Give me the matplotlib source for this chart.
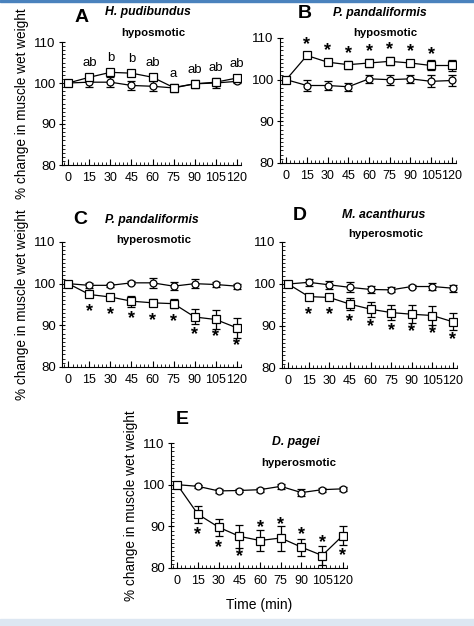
import matplotlib
matplotlib.use("Agg")
import matplotlib.pyplot as plt
from matplotlib.patches import Rectangle
from matplotlib.ticker import MultipleLocator

plt.rcParams["font.family"] = ["Liberation Sans", "DejaVu Sans"]

# ------------------------------------------------------------
# DATA
# ------------------------------------------------------------
TIME = [0, 15, 30, 45, 60, 75, 90, 105, 120]

# A  H. pudibundus, hyposmotic
A_SQ = [100, 101.4, 102.6, 102.4, 101.4, 98.9, 99.8, 100.2, 101.2]
A_SQ_ERR = [0, 0.5, 0.4, 0.4, 0.3, 0.4, 0.3, 0.5, 0.5]
A_CI = [100, 100.2, 100.2, 99.4, 99.2, 98.8, 99.8, 100.0, 100.4]
A_CI_ERR = [0, 1.2, 1.2, 1.2, 1.2, 1.0, 1.0, 1.2, 0.5]
A_LETTERS = ["", "ab", "b", "b", "ab", "a", "ab", "ab", "ab"]

# B  P. pandaliformis, hyposmotic
B_SQ = [100, 105.8, 104.2, 103.6, 104.0, 104.4, 104.0, 103.4, 103.4]
B_SQ_ERR = [0, 0.3, 0.6, 1.0, 1.0, 1.0, 0.6, 1.2, 1.3]
B_CI = [100, 98.6, 98.6, 98.3, 100.2, 100.0, 100.2, 99.6, 99.8]
B_CI_ERR = [0, 1.2, 1.0, 1.0, 1.0, 1.2, 1.0, 1.4, 1.4]
B_STARS = [0, 1, 1, 1, 1, 1, 1, 1, 0]

# C  P. pandaliformis, hyperosmotic
C_SQ = [100, 97.4, 96.8, 95.8, 95.4, 95.2, 92.0, 91.4, 89.4]
C_SQ_ERR = [0, 0.4, 0.6, 1.3, 0.8, 1.0, 1.8, 2.2, 2.4]
C_CI = [100, 99.6, 99.6, 100.2, 100.2, 99.4, 100.0, 99.8, 99.4]
C_CI_ERR = [0, 0.6, 0.4, 0.4, 1.2, 1.0, 1.0, 0.6, 0.6]
C_STARS = [0, -1, -1, -1, -1, -1, -1, -1, -1]

# D  M. acanthurus, hyperosmotic
D_SQ = [100, 97.0, 96.8, 95.2, 94.0, 93.2, 92.8, 92.5, 91.0]
D_SQ_ERR = [0, 0.3, 0.6, 1.5, 1.8, 1.8, 2.2, 2.2, 2.0]
D_CI = [100, 100.4, 99.8, 99.2, 98.7, 98.6, 99.4, 99.4, 99.0]
D_CI_ERR = [0, 0.8, 1.0, 1.2, 0.8, 0.6, 0.4, 0.8, 0.8]
D_STARS = [0, -1, -1, -1, -1, -1, -1, -1, -1]

# E  D. pagei, hyperosmotic
E_SQ = [100, 92.9, 89.8, 87.6, 86.6, 87.2, 85.0, 83.0, 87.8]
E_SQ_ERR = [0, 2.0, 2.0, 2.8, 2.6, 3.0, 2.0, 2.2, 2.2]
E_CI = [100, 99.6, 98.5, 98.6, 98.8, 99.6, 98.1, 98.8, 99.0]
E_CI_ERR = [0, 0.4, 0.5, 0.4, 0.5, 0.6, 0.8, 0.5, 0.4]
E_STARS = [0, -1, -1, -1, 1, 1, 1, 1, -1]

YLABEL = "% change in muscle wet weight"


def fx(px):
    return px / 474.0


def fy(px):
    return 1 - px / 626.0


def make_axes(fig, left, top, right, bottom):
    return fig.add_axes([fx(left), fy(bottom), fx(right - left), (bottom - top) / 626.0])


def draw_panel(ax, sq, sq_err, ci, ci_err, ylabel=True, xlabel=False):
    ax.errorbar(TIME, ci, yerr=ci_err, color="black", lw=0.9, marker="o",
                ms=5.0, mfc="white", mec="black", mew=0.9,
                capsize=2.8, elinewidth=0.9, capthick=0.9, zorder=3)
    ax.errorbar(TIME, sq, yerr=sq_err, color="black", lw=0.9, marker="s",
                ms=5.4, mfc="white", mec="black", mew=0.9,
                capsize=2.8, elinewidth=0.9, capthick=0.9, zorder=4)

    ax.set_xlim(-4.5, 123)
    ax.set_ylim(80, 110)
    ax.set_xticks(TIME)
    ax.set_yticks([80, 90, 100, 110])
    ax.xaxis.set_minor_locator(MultipleLocator(3))
    ax.yaxis.set_minor_locator(MultipleLocator(1))
    ax.tick_params(axis="x", which="major", direction="in", length=4, width=0.8,
                   labelsize=9, pad=5)
    ax.tick_params(axis="x", which="minor", direction="in", length=2, width=0.6)
    ax.tick_params(axis="y", which="major", direction="inout", length=5, width=0.8,
                   labelsize=9.5, pad=2)
    ax.tick_params(axis="y", which="minor", direction="in", length=2, width=0.6)
    for s in ("top", "right"):
        ax.spines[s].set_visible(False)
    for s in ("left", "bottom"):
        ax.spines[s].set_linewidth(0.8)
    if ylabel:
        ax.set_ylabel(YLABEL, fontsize=9.8, labelpad=3)
    if xlabel:
        ax.set_xlabel("Time (min)", fontsize=10, labelpad=8)


def draw_stars(ax, sq, signs, offset):
    # the asterisk glyph sits high in its text box, so nudge it down a bit
    for t, v, s in zip(TIME, sq, signs):
        if s:
            ax.text(t, v + s * offset - 0.9, "*", ha="center", va="center",
                    fontsize=13, fontweight="bold")


def titles(fig, letter, lpos, species, spos, cond, cpos):
    fig.text(fx(lpos[0]), fy(lpos[1]), letter, ha="center", va="center",
             fontsize=14, fontweight="bold")
    fig.text(fx(spos[0]), fy(spos[1]), species, ha="center", va="center",
             fontsize=8.8, fontweight="bold", style="italic")
    fig.text(fx(cpos[0]), fy(cpos[1]), cond, ha="center", va="center",
             fontsize=8.2, fontweight="bold")


fig = plt.figure(figsize=(4.74, 6.26), dpi=100)

# thin page strips from the source page
fig.patches.append(Rectangle((0, fy(2)), 1, 2 / 626.0, transform=fig.transFigure,
                             color="#4a82bd", zorder=0))
fig.patches.append(Rectangle((0, 0), 1, 7 / 626.0, transform=fig.transFigure,
                             color="#dde7f2", zorder=0))

# A
ax = make_axes(fig, 62, 42, 241, 165)
draw_panel(ax, A_SQ, A_SQ_ERR, A_CI, A_CI_ERR)
for t, v, lab in zip(TIME, A_SQ, A_LETTERS):
    if lab:
        ax.text(t, v + 3.4, lab, ha="center", va="center", fontsize=9.5)
titles(fig, "A", (82, 17), "H. pudibundus", (148, 12), "hyposmotic", (153, 33))

# B
ax = make_axes(fig, 280, 38, 456, 163)
draw_panel(ax, B_SQ, B_SQ_ERR, B_CI, B_CI_ERR, ylabel=False)
draw_stars(ax, B_SQ, B_STARS, 3.6)
titles(fig, "B", (305, 14), "P. pandaliformis", (380, 13), "hyposmotic", (385, 33))

# C
ax = make_axes(fig, 62, 242, 241, 367)
draw_panel(ax, C_SQ, C_SQ_ERR, C_CI, C_CI_ERR)
draw_stars(ax, C_SQ, C_STARS, 3.3)
titles(fig, "C", (80, 220), "P. pandaliformis", (152, 220), "hyperosmotic", (154, 240))

# D
ax = make_axes(fig, 282, 242, 457, 368)
draw_panel(ax, D_SQ, D_SQ_ERR, D_CI, D_CI_ERR, ylabel=False)
draw_stars(ax, D_SQ, D_STARS, 3.3)
titles(fig, "D", (300, 215), "M. acanthurus", (384, 215), "hyperosmotic", (386, 234))

# E
ax = make_axes(fig, 171, 443, 347, 568)
draw_panel(ax, E_SQ, E_SQ_ERR, E_CI, E_CI_ERR, xlabel=True)
draw_stars(ax, E_SQ, E_STARS, 4.0)
titles(fig, "E", (182, 420), "D. pagei", (296, 442), "hyperosmotic", (299, 463))

fig.savefig("out.png", dpi=100)
